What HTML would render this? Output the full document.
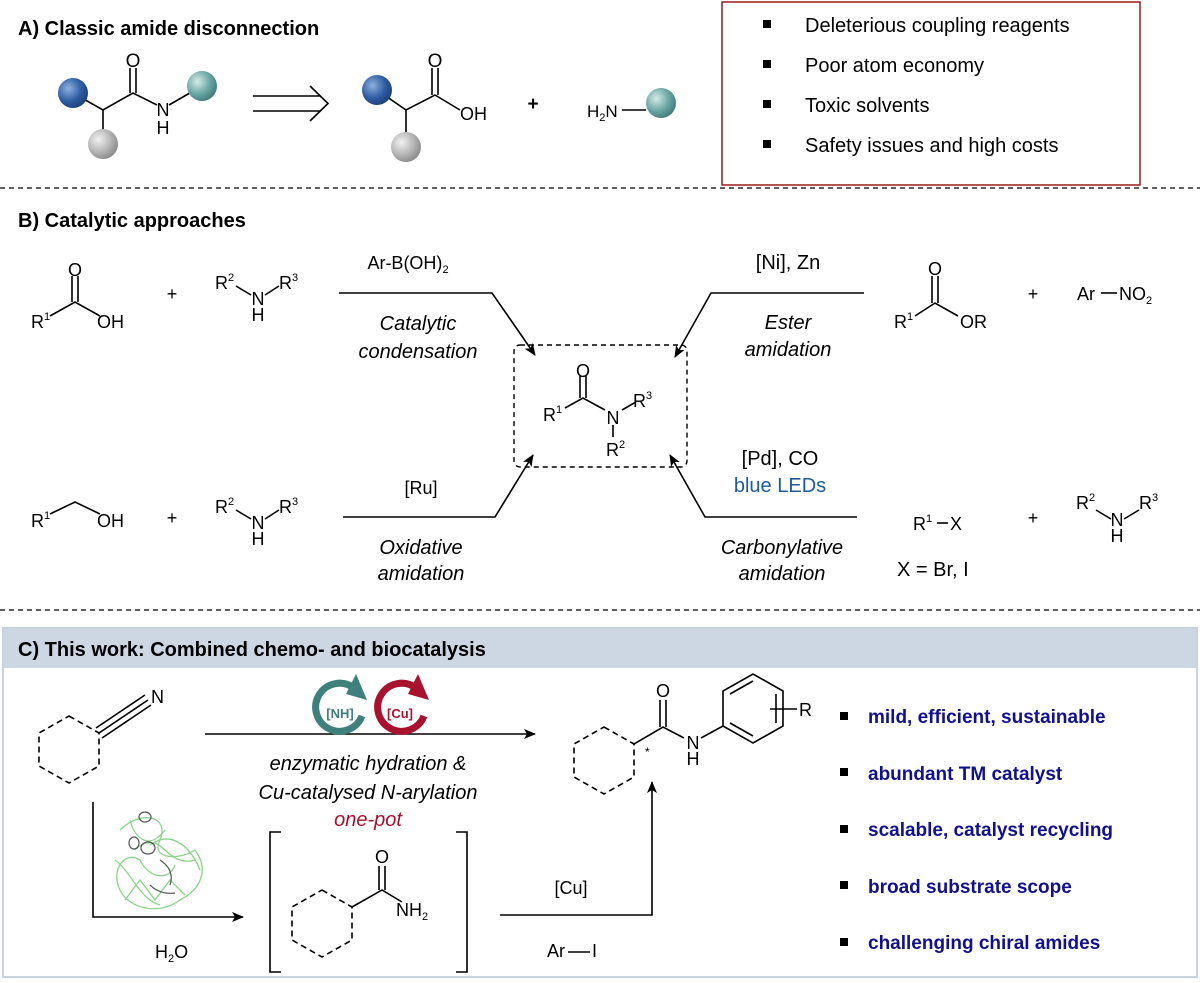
<!DOCTYPE html>
<html><head><meta charset="utf-8"><style>
html,body{margin:0;padding:0;background:#fff;}
svg{display:block;font-family:"Liberation Sans",Arial,sans-serif;}
</style></head><body>
<svg width="1200" height="983" viewBox="0 0 1200 983" xmlns="http://www.w3.org/2000/svg">
<defs>
<radialGradient id="gb" cx="35%" cy="35%" r="70%"><stop offset="0" stop-color="#8fb0dc"/><stop offset="0.6" stop-color="#2f5ea3"/><stop offset="1" stop-color="#1c3f7a"/></radialGradient>
<radialGradient id="gt" cx="35%" cy="35%" r="70%"><stop offset="0" stop-color="#d5ebe8"/><stop offset="0.6" stop-color="#6aa6a3"/><stop offset="1" stop-color="#3f7c7a"/></radialGradient>
<radialGradient id="gg" cx="35%" cy="35%" r="70%"><stop offset="0" stop-color="#f2f2f2"/><stop offset="0.6" stop-color="#b4b4b4"/><stop offset="1" stop-color="#8a8a8a"/></radialGradient>
<marker id="ah" viewBox="0 0 12 10" refX="11" refY="5" markerWidth="12" markerHeight="10" markerUnits="userSpaceOnUse" orient="auto"><path d="M0,0 L12,5 L0,10 L3,5 z" fill="#000"/></marker>
</defs>
<g stroke="#000" stroke-width="1.6" fill="none">
<path d="M73,93 L103,110 L133,93 L157,105 M103,110 V140 M169,105 L202,86"/>
<path d="M130,93 V68 M136,93 V68"/>
<path d="M377,90 L406,110 L435,95 L460,110 M406,110 V147"/>
<path d="M432,95 V68 M438,95 V68"/>
<path d="M622,110 H646"/>
<path d="M253,96 H320 M253,111 H320 M310,86 L328,103.5 L310,121"/>
<rect x="722" y="2" width="418" height="183" stroke="#9b1c1c" stroke-width="1.5"/>
<line x1="0" y1="188" x2="1200" y2="188" stroke-dasharray="5,4" stroke-width="1.3"/>
<line x1="0" y1="610" x2="1200" y2="610" stroke-dasharray="5,4" stroke-width="1.3"/>
<path d="M50,316 L75,302 L100,316 M72,302 V276 M78,302 V276"/>
<path d="M236,286 L251,295 M265,295 L279,286"/>
<path d="M339,293 H492 L535,355" marker-end="url(#ah)"/>
<path d="M864,293 H711 L675,357" marker-end="url(#ah)"/>
<path d="M343,517 H495 L533,455" marker-end="url(#ah)"/>
<path d="M857,517 H705 L670,455" marker-end="url(#ah)"/>
<rect x="514" y="345" width="173" height="122" rx="6" stroke-dasharray="5,4" stroke-width="1.4"/>
<path d="M565,408 L583,398 L605,410 M580,398 V376 M586,398 V376 M622,410 L636,402 M613,425 V437"/>
<path d="M915,316 L935,303 L958,316 M932,303 V276 M938,303 V276"/>
<path d="M1101,293 H1117"/>
<path d="M50,514 L75,502 L100,514"/>
<path d="M236,510 L251,519 M265,519 L279,510"/>
<path d="M937,523 H948"/>
<path d="M1096,510 L1111,519 M1124,519 L1139,510"/>
<rect x="3" y="628" width="1194" height="349" stroke="#c9d3de" stroke-width="2"/>
</g>
<rect x="4" y="629" width="1192" height="39" fill="#ccd7e3"/>
<g stroke="#000" stroke-width="1.6" fill="none">
<path d="M69,716 L99,733 L99,766 L69,783 L39,766 L39,733 Z" stroke-dasharray="6,4"/>
<path d="M99,733 L148,700 M96,728 L145,695 M102,738 L151,705"/>
<path d="M205,734 H535" marker-end="url(#ah)"/>
<path d="M604,727 L634,744 L634,777 L604,794 L574,777 L574,744 Z" stroke-dasharray="6,4"/>
<path d="M634,744 L663,727 L684,738 M660,727 V700 M666,727 V700 M701,738 L723,726"/>
<path d="M723,726 L723,691 L753,674 L783,691 L783,726 L753,743 Z M730,694 L753,681 M776,694 V723 M730,723 L753,736"/>
<path d="M770,709 H797"/>
<path d="M93,802 V917 H243" marker-end="url(#ah)"/>
<path d="M281,832 H270 V972 H281 M456,832 H467 V972 H456"/>
<path d="M322,890 L352,907 L352,940 L322,957 L292,940 L292,907 Z" stroke-dasharray="6,4"/>
<path d="M352,907 L382,890 L402,902 M379,890 V866 M385,890 V866"/>
<path d="M500,915 H652 V782" marker-end="url(#ah)"/>
<path d="M568,952 H590"/>
</g>
<circle cx="73" cy="93" r="15" fill="url(#gb)"/>
<circle cx="103" cy="144" r="15" fill="url(#gg)"/>
<circle cx="202" cy="86" r="15" fill="url(#gt)"/>
<circle cx="377" cy="90" r="15" fill="url(#gb)"/>
<circle cx="406" cy="147" r="15" fill="url(#gg)"/>
<circle cx="661" cy="103" r="15" fill="url(#gt)"/>
<g fill="none" stroke-width="7">
<path d="M354,688 A24,24 0 1 0 362,716" stroke="#3f7f7c"/>
<path d="M416,688 A24,24 0 1 0 424,716" stroke="#a8122f"/>
</g>
<path d="M346,694 L356,674 L367,700 Z" fill="#3f7f7c"/>
<path d="M408,694 L418,674 L429,700 Z" fill="#a8122f"/>
<text x="340" y="718" font-size="13" font-weight="bold" fill="#3f7f7c" text-anchor="middle">[NH]</text>
<text x="400" y="718" font-size="13" font-weight="bold" fill="#a8122f" text-anchor="middle">[Cu]</text>
<g fill="none" stroke="#7fcf7f" stroke-width="1.3" opacity="0.9">
<path d="M120,830 C140,810 170,815 160,840 C150,860 180,860 195,850 C210,870 200,890 180,900 C160,915 130,910 120,890 C110,870 125,850 140,860 C150,880 170,880 175,865"/>
<path d="M115,860 C130,870 140,900 160,905 M150,845 C170,830 190,845 200,870 M130,820 C135,840 150,850 165,830"/>
<path d="M125,900 L140,880 L155,900 L170,880 L185,895 M135,850 Q150,835 165,850 Q180,865 195,860"/>
</g>
<g fill="none" stroke="#555" stroke-width="1.2">
<ellipse cx="145" cy="817" rx="6" ry="5"/><ellipse cx="148" cy="848" rx="7" ry="6"/><ellipse cx="134" cy="843" rx="5" ry="6"/>
<path d="M160,860 Q175,870 170,885 M150,885 Q160,895 175,893"/>
</g>
<g font-size="19" fill="#000">
<text x="18" y="35" font-size="20" font-weight="bold">A) Classic amide disconnection</text>
<text x="133" y="67" text-anchor="middle">O</text>
<text x="163" y="116" text-anchor="middle" font-size="18">N</text>
<text x="163" y="134" text-anchor="middle" font-size="18">H</text>
<text x="435" y="67" text-anchor="middle">O</text>
<text x="460" y="120" font-size="18">OH</text>
<text x="533" y="110" text-anchor="middle" font-weight="bold">+</text>
<text x="587" y="117" font-size="17">H<tspan font-size="11" dy="4">2</tspan><tspan dy="-4">N</tspan></text>
<g font-size="20"><text x="805" y="32">Deleterious coupling reagents</text><text x="805" y="72">Poor atom economy</text><text x="805" y="112">Toxic solvents</text><text x="805" y="152">Safety issues and high costs</text></g>
<rect x="763" y="20" width="8" height="8"/><rect x="763" y="60" width="8" height="8"/><rect x="763" y="100" width="8" height="8"/><rect x="763" y="140" width="8" height="8"/>
<text x="18" y="227" font-size="20" font-weight="bold">B) Catalytic approaches</text>
<g font-size="18">
<text x="75" y="276" text-anchor="middle">O</text>
<text x="31" y="328">R<tspan font-size="11" dy="-8">1</tspan></text>
<text x="97" y="328">OH</text>
<text x="172" y="300" text-anchor="middle">+</text>
<text x="215" y="289">R<tspan font-size="11" dy="-8">2</tspan></text>
<text x="258" y="305" text-anchor="middle">N</text>
<text x="258" y="321" text-anchor="middle">H</text>
<text x="279" y="289">R<tspan font-size="11" dy="-8">3</tspan></text>
<text x="408" y="269" text-anchor="middle">Ar-B(OH)<tspan font-size="11" dy="4">2</tspan></text>
<text x="583" y="377" text-anchor="middle">O</text>
<text x="543" y="421">R<tspan font-size="11" dy="-8">1</tspan></text>
<text x="613" y="424" text-anchor="middle">N</text>
<text x="633" y="407">R<tspan font-size="11" dy="-8">3</tspan></text>
<text x="606" y="456">R<tspan font-size="11" dy="-8">2</tspan></text>
<text x="935" y="275" text-anchor="middle">O</text>
<text x="894" y="328">R<tspan font-size="11" dy="-8">1</tspan></text>
<text x="960" y="328">OR</text>
<text x="1033" y="300" text-anchor="middle">+</text>
<text x="1077" y="300">Ar</text>
<text x="1119" y="300">NO<tspan font-size="11" dy="4">2</tspan></text>
<text x="31" y="527">R<tspan font-size="11" dy="-8">1</tspan></text>
<text x="97" y="527">OH</text>
<text x="172" y="524" text-anchor="middle">+</text>
<text x="215" y="513">R<tspan font-size="11" dy="-8">2</tspan></text>
<text x="258" y="529" text-anchor="middle">N</text>
<text x="258" y="545" text-anchor="middle">H</text>
<text x="279" y="513">R<tspan font-size="11" dy="-8">3</tspan></text>
<text x="421" y="494" text-anchor="middle">[Ru]</text>
<text x="913" y="530">R<tspan font-size="11" dy="-8">1</tspan></text>
<text x="950" y="530">X</text>
<text x="1033" y="524" text-anchor="middle">+</text>
<text x="1076" y="509">R<tspan font-size="11" dy="-8">2</tspan></text>
<text x="1117" y="526" text-anchor="middle">N</text>
<text x="1117" y="542" text-anchor="middle">H</text>
<text x="1139" y="509">R<tspan font-size="11" dy="-8">3</tspan></text>
</g>
<g font-size="20">
<text x="788" y="269" text-anchor="middle">[Ni], Zn</text>
<text x="780" y="465" text-anchor="middle">[Pd], CO</text>
<text x="780" y="492" text-anchor="middle" fill="#1f5a9e">blue LEDs</text>
<text x="897" y="576">X = Br, I</text>
</g>
<g font-size="20" font-style="italic" text-anchor="middle">
<text x="418" y="330">Catalytic</text><text x="418" y="358">condensation</text>
<text x="788" y="329">Ester</text><text x="788" y="356">amidation</text>
<text x="421" y="554">Oxidative</text><text x="421" y="580">amidation</text>
<text x="782" y="554">Carbonylative</text><text x="782" y="580">amidation</text>
<text x="368" y="770">enzymatic hydration &amp;</text>
<text x="368" y="799">Cu-catalysed N-arylation</text>
<text x="368" y="826" fill="#a8122f">one-pot</text>
</g>
<text x="18" y="656" font-size="20" font-weight="bold">C) This  work: Combined chemo- and biocatalysis</text>
<g font-size="18">
<text x="151" y="703">N</text>
<text x="663" y="697" text-anchor="middle">O</text>
<text x="645" y="756" font-size="12">*</text>
<text x="693" y="749" text-anchor="middle">N</text>
<text x="693" y="765" text-anchor="middle">H</text>
<text x="799" y="716">R</text>
<text x="382" y="863" text-anchor="middle">O</text>
<text x="396" y="916">NH<tspan font-size="11" dy="4">2</tspan></text>
<text x="155" y="958">H<tspan font-size="11" dy="4">2</tspan><tspan dy="-4">O</tspan></text>
<text x="571" y="894" text-anchor="middle">[Cu]</text>
<text x="547" y="957">Ar</text><text x="592" y="957">I</text>
</g>
<g font-size="19" font-weight="bold" fill="#101090">
<text x="868" y="723">mild, efficient, sustainable</text>
<text x="868" y="780">abundant TM catalyst</text>
<text x="868" y="836">scalable, catalyst recycling</text>
<text x="868" y="893">broad substrate scope</text>
<text x="868" y="949">challenging chiral amides</text>
</g>
<rect x="840" y="712" width="8" height="8"/><rect x="840" y="768" width="8" height="8"/><rect x="840" y="825" width="8" height="8"/><rect x="840" y="881" width="8" height="8"/><rect x="840" y="938" width="8" height="8"/>
</g>
</svg>
</body></html>
